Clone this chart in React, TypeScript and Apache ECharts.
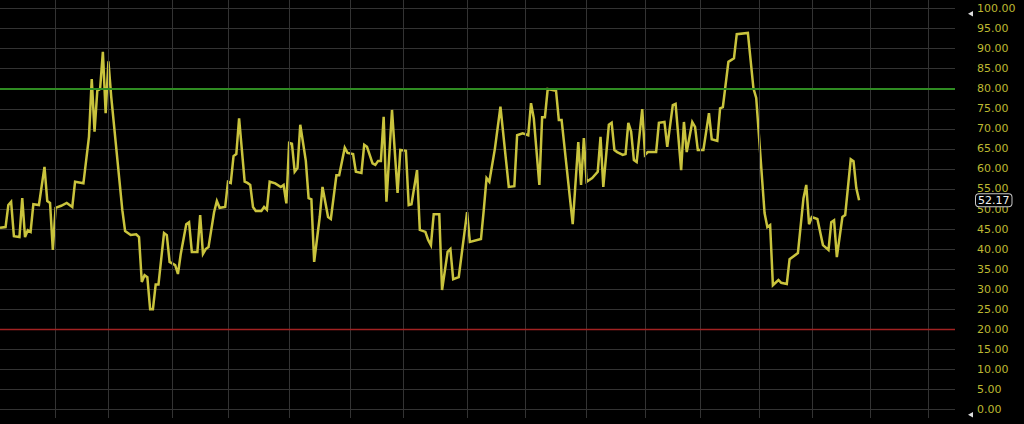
import React, { useEffect, useRef } from "react";
import * as echarts from "echarts";

// trading-day index of each traced point
const days = [
  0, 2, 3, 4, 5, 7, 8, 9, 10, 11, 12, 14, 16, 17, 18, 19, 20, 22, 24, 26, 27, 30, 32, 33, 34, 35, 36, 37, 38, 39, 40,
  44, 45, 47, 49, 50, 51, 52, 53, 54, 55, 56, 57, 59, 60, 61, 63, 64, 65, 67, 68, 69, 71, 72, 73, 74, 75, 77, 78, 79,
  81, 82, 83, 84, 85, 86, 88, 89, 90, 91, 92, 94, 95, 96, 97, 99, 101, 102, 103, 104, 105, 106, 107, 108, 110, 111,
  112, 113, 115, 116, 118, 119, 121, 122, 124, 125, 127, 128, 130, 131, 132, 134, 135, 136, 137, 138, 139, 141, 143,
  144, 146, 147, 148, 150, 151, 153, 154, 155, 156, 158, 159, 161, 162, 163, 165, 168, 169, 173, 174, 175, 176, 178,
  180, 182, 183, 185, 186, 188, 190, 191, 192, 194, 195, 196, 197, 200, 201, 202, 206, 208, 209, 210, 211, 213, 215,
  216, 217, 219, 220, 221, 222, 224, 225, 226, 227, 228, 229, 231, 232, 233, 236, 237, 239, 240, 242, 243, 245, 246,
  247, 249, 250, 251, 253, 255, 256, 258, 259, 260, 262, 264, 265, 269, 271, 272, 275, 276, 277, 278, 280, 281, 283,
  284, 287, 289, 290, 291, 292, 294, 296, 298, 299, 300, 301, 303, 304, 306, 307, 308, 309,
];

// RSI values
const rsi = [
  45.3, 45.5, 51.0, 51.8, 43.2, 43.0, 52.7, 43.0, 44.7, 44.3, 51.2, 51.0, 60.5, 52.0, 51.5, 39.8, 50.3, 50.8, 51.5,
  50.5, 56.8, 56.4, 68.0, 82.4, 69.3, 79.5, 79.9, 89.2, 73.9, 86.8, 78.0,
  49.7, 44.5, 43.5, 43.7, 43.0, 31.8, 33.5, 33.0, 25.0, 25.0, 31.2, 31.2, 44.0, 43.5, 36.8, 36.0, 33.8, 38.7, 46.2,
  46.7, 39.3, 39.3, 48.5, 38.8, 40.0, 40.5, 49.2, 52.0, 50.3,
  50.5, 56.8, 56.5, 63.2, 63.7, 72.6, 56.8, 56.5, 56.0, 50.5, 49.5, 49.5, 50.5, 49.8, 56.8, 56.4, 55.5, 56.0, 51.4,
  66.5, 66.3, 59.3, 60.2, 71.0, 62.0, 52.7,
  52.4, 36.8, 48.0, 55.5, 48.0, 47.5, 58.4, 58.4, 65.3, 64.0, 63.7, 59.3, 59.0, 66.0, 65.5, 61.4, 61.0, 62.0, 62.0,
  73.0, 51.8, 74.7, 54.0,
  64.7, 64.5, 51.0, 51.2, 59.7, 44.8, 44.3, 42.3, 41.0, 48.7, 48.7, 29.8, 39.3, 40.0, 32.5, 33.0, 49.2, 41.8, 42.5,
  49.7, 57.7, 56.8, 65.0,
  75.5, 62.2, 55.5, 55.7, 68.4, 68.9, 68.4, 76.4, 72.6, 56.0, 72.9, 72.9, 79.9, 79.5, 72.2, 72.2, 46.2, 66.7, 56.0,
  67.7, 56.8, 57.7, 59.3,
  68.0, 55.5, 71.0, 71.5, 64.7, 64.2, 63.5, 63.7, 71.5, 69.3, 62.2, 61.7, 74.9, 63.5, 64.2, 64.2, 71.5, 71.7, 65.5,
  75.9, 76.2, 59.7, 71.7,
  64.2, 71.7, 70.5, 64.7, 64.7, 73.9, 67.4, 67.0, 75.1, 75.4, 86.7, 87.6, 93.6, 93.9, 80.1, 77.7, 49.0, 45.5, 46.0,
  31.0, 32.3, 31.6, 31.3,
  37.5, 39.0, 52.7, 56.0, 46.2, 48.0, 47.5, 41.0, 39.8, 46.7, 47.2, 38.0, 48.0, 48.5, 62.4, 61.9, 55.2, 52.17,
];

// first trading day of each month (vertical grid lines)
const monthStarts = [20, 39, 62, 82, 104, 126, 145, 168, 189, 211, 232, 252, 273, 292, 313, 334];

const dayRange = [0, 343.5];
const overbought = 80;
const oversold = 20;

export default function App() {
  const ref = useRef<HTMLDivElement>(null);

  useEffect(() => {
    if (!ref.current) return;
    const chart = echarts.init(ref.current, null, { renderer: "svg" });
    const last = rsi[rsi.length - 1];
    const gridColor = "#333333";
    chart.setOption({
      animation: false,
      backgroundColor: "#000000",
      grid: [
        { left: 0, right: 69, top: 8.5, bottom: 14.5, containLabel: false },
        { left: 0, right: 69, top: 0, bottom: 6, containLabel: false },
      ],
      xAxis: [
        {
          type: "value",
          gridIndex: 0,
          min: dayRange[0],
          max: dayRange[1],
          show: false,
          splitLine: { show: false },
        },
        {
          type: "value",
          gridIndex: 1,
          min: dayRange[0],
          max: dayRange[1],
          show: false,
          splitLine: { show: false },
        },
      ],
      yAxis: [
        {
          type: "value",
          gridIndex: 0,
          position: "right",
          min: 0,
          max: 100,
          interval: 5,
          axisLine: { show: false },
          axisTick: { show: false },
          splitLine: { show: true, lineStyle: { color: gridColor, width: 1 } },
          axisLabel: {
            color: "#bdb832",
            fontSize: 11,
            fontFamily: "DejaVu Sans",
            margin: 22,
            formatter: (v: number) => v.toFixed(2),
          },
        },
        {
          type: "value",
          gridIndex: 1,
          min: 0,
          max: 1,
          show: false,
          splitLine: { show: false },
        },
      ],
      series: [
        {
          type: "line",
          xAxisIndex: 1,
          yAxisIndex: 1,
          data: [
            [dayRange[0], 0],
            [dayRange[1], 0],
          ],
          showSymbol: false,
          silent: true,
          lineStyle: { opacity: 0 },
          z: 1,
          markLine: {
            silent: true,
            symbol: "none",
            animation: false,
            label: { show: false },
            lineStyle: { color: gridColor, width: 1, type: "solid" },
            data: monthStarts.map((d) => ({ xAxis: d })),
          },
        },
        {
          type: "line",
          xAxisIndex: 0,
          yAxisIndex: 0,
          data: days.map((d, i) => [d, rsi[i]]),
          showSymbol: false,
          silent: true,
          z: 3,
          lineStyle: { color: "#c9c33d", width: 2.5, join: "miter" },
          markLine: {
            silent: true,
            symbol: "none",
            animation: false,
            label: { show: false },
            data: [
              { yAxis: overbought, lineStyle: { color: "#2f8c22", width: 1.8, type: "solid" } },
              { yAxis: oversold, lineStyle: { color: "#a32222", width: 1.4, type: "solid" } },
              {
                yAxis: last,
                lineStyle: { color: "rgba(0,0,0,0)", width: 0, type: "solid" },
                label: {
                  show: true,
                  position: "end",
                  distance: 21,
                  formatter: () => last.toFixed(2),
                  color: "#f0f0f0",
                  fontSize: 11,
                  fontFamily: "DejaVu Sans",
                  backgroundColor: "#000000",
                  borderColor: "#c8c8c8",
                  borderWidth: 1,
                  borderRadius: 3,
                  padding: [1, 2, 0, 2],
                },
              },
            ],
          },
        },
      ],
      graphic: [
        {
          type: "polygon",
          silent: true,
          shape: { points: [[973, 11], [973, 16.5], [968, 13.75]] },
          style: { fill: "#dddddd" },
        },
        {
          type: "polygon",
          silent: true,
          shape: { points: [[973, 412], [973, 417.5], [968, 414.75]] },
          style: { fill: "#dddddd" },
        },
      ],
    });
    return () => chart.dispose();
  }, []);

  return (
    <div
      ref={ref}
      style={{ position: "fixed", left: 0, top: 0, width: 1024, height: 424 }}
    />
  );
}
